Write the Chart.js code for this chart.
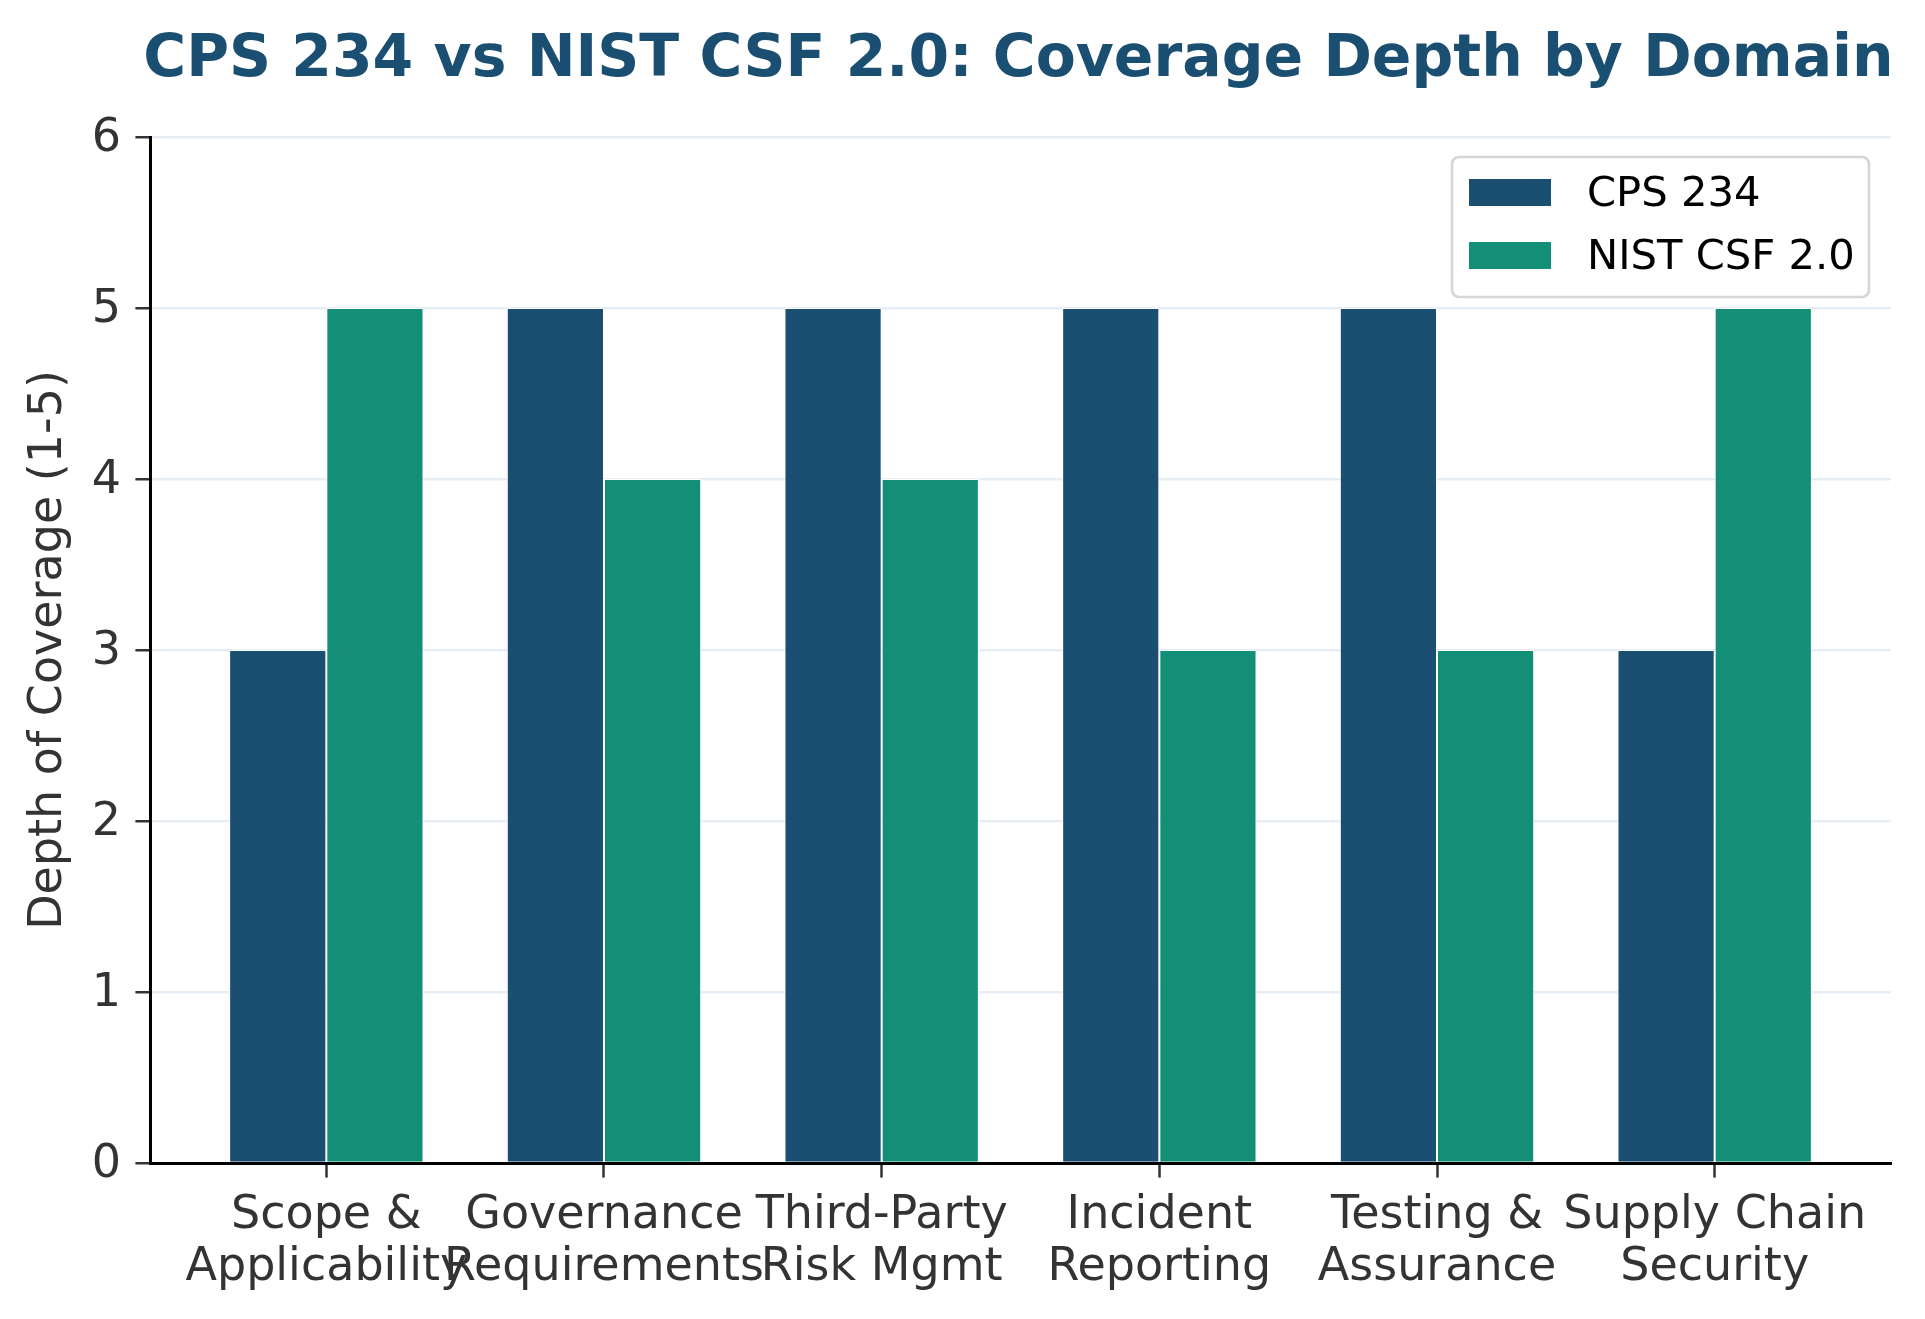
<!DOCTYPE html>
<html>
<head>
<meta charset="utf-8">
<script src="https://cdn.jsdelivr.net/npm/chart.js@4.4.1/dist/chart.umd.min.js"></script>
<style>
  html, body { margin: 0; padding: 0; background: #fff; }
  canvas { display: block; }
</style>
</head>
<body>
<canvas id="myChart" width="1925" height="1319"></canvas>
<script>
// Domains (two-line tick labels)
const domains = [
    ['Scope &', 'Applicability'],
    ['Governance', 'Requirements'],
    ['Third-Party', 'Risk Mgmt'],
    ['Incident', 'Reporting'],
    ['Testing &', 'Assurance'],
    ['Supply Chain', 'Security']
];

// Depth of coverage scores (1-5)
const cps234 = [3, 5, 5, 5, 5, 3];
const nistCsf = [5, 4, 4, 3, 3, 5];

const yTicks = [0, 1, 2, 3, 4, 5, 6];

const seriesNames = ['CPS 234', 'NIST CSF 2.0'];
const seriesColors = ['#1b4f72', '#148f77'];

const FONT = "'DejaVu Sans', 'Liberation Sans', sans-serif";

// Title centred over the plot area (not the whole canvas)
const titlePlugin = {
    id: 'axesTitle',
    afterDraw(chart) {
        const { ctx, chartArea } = chart;
        ctx.save();
        ctx.font = "bold 58.4px " + FONT;
        ctx.fillStyle = '#1b4f72';
        ctx.textAlign = 'center';
        ctx.textBaseline = 'alphabetic';
        ctx.fillText('CPS 234 vs NIST CSF 2.0: Coverage Depth by Domain', (chartArea.left + chartArea.right) / 2 - 2, 76);
        ctx.restore();
    }
};

// Framed legend in the upper right corner of the plot
const boxLegend = {
    id: 'boxLegend',
    afterDraw(chart) {
        const { ctx, chartArea } = chart;
        const right = chartArea.right - 22;
        const top = chartArea.top + 20;
        const w = 417, h = 140;
        const left = right - w;
        ctx.save();
        ctx.beginPath();
        ctx.roundRect(left, top, w, h, 7);
        ctx.fillStyle = 'rgba(255,255,255,0.85)';
        ctx.fill();
        ctx.lineWidth = 2.7;
        ctx.strokeStyle = '#d6d6d6';
        ctx.stroke();
        ctx.font = "41.7px " + FONT;
        ctx.textBaseline = 'middle';
        ctx.textAlign = 'left';
        chart.data.datasets.forEach((ds, i) => {
            const cy = top + 35.5 + i * 63;
            ctx.fillStyle = ds.backgroundColor;
            ctx.fillRect(left + 17, cy - 13.5, 82, 27);
            ctx.fillStyle = '#000';
            ctx.fillText(ds.label, left + 135, cy + 3);
        });
        ctx.restore();
    }
};

const ctx1 = document.getElementById('myChart');

const config1 = {
    type: 'bar',
    data: {
        datasets: [
            {
                label: seriesNames[0],
                data: cps234.map((v, i) => ({ x: i, y: v })),
                backgroundColor: seriesColors[0],
                borderColor: '#ffffff',
                borderWidth: 1
            },
            {
                label: seriesNames[1],
                data: nistCsf.map((v, i) => ({ x: i, y: v })),
                backgroundColor: seriesColors[1],
                borderColor: '#ffffff',
                borderWidth: 1
            }
        ]
    },
    options: {
        responsive: false,
        animation: false,
        devicePixelRatio: 1,
        categoryPercentage: 0.7,
        barPercentage: 1.0,
        layout: { padding: { top: 137, right: 34, bottom: 0, left: 0 } },
        plugins: {
            legend: { display: false },
            title: { display: false },
            tooltip: { enabled: false }
        },
        scales: {
            x: {
                type: 'linear',
                min: -0.635,
                max: 5.635,
                offset: false,
                z: 1,
                afterBuildTicks: (axis) => { axis.ticks = domains.map((_, i) => ({ value: i })); },
                afterFit: (axis) => { axis.height = 156; },
                grid: {
                    offset: false,
                    drawOnChartArea: false,
                    drawTicks: true,
                    tickLength: 14.6,
                    tickColor: '#333333',
                    tickWidth: 2.5
                },
                border: { display: true, color: '#000000', width: 3 },
                ticks: {
                    autoSkip: false,
                    maxRotation: 0,
                    padding: 12,
                    color: '#333333',
                    font: { family: FONT, size: 46, lineHeight: 1.13 },
                    callback: (value) => domains[value]
                }
            },
            y: {
                min: 0,
                max: 6,
                z: 1,
                afterBuildTicks: (axis) => { axis.ticks = yTicks.map(v => ({ value: v })); },
                afterFit: (axis) => { axis.width = 150; },
                grid: {
                    color: 'rgba(176,196,222,0.3)',
                    lineWidth: 2.5,
                    drawTicks: true,
                    tickLength: 14.6,
                    tickColor: '#333333',
                    tickWidth: 2.5
                },
                border: { display: true, color: '#000000', width: 3 },
                ticks: {
                    padding: 14.5,
                    labelOffset: 2.5,
                    color: '#333333',
                    font: { family: FONT, size: 46 }
                },
                title: {
                    display: true,
                    text: 'Depth of Coverage (1-5)',
                    color: '#333333',
                    font: { family: FONT, size: 46, lineHeight: 1 },
                    padding: { top: 26, bottom: 0 }
                }
            }
        }
    },
    plugins: [titlePlugin, boxLegend]
};

const myChart1 = new Chart(ctx1, config1);
</script>
</body>
</html>
